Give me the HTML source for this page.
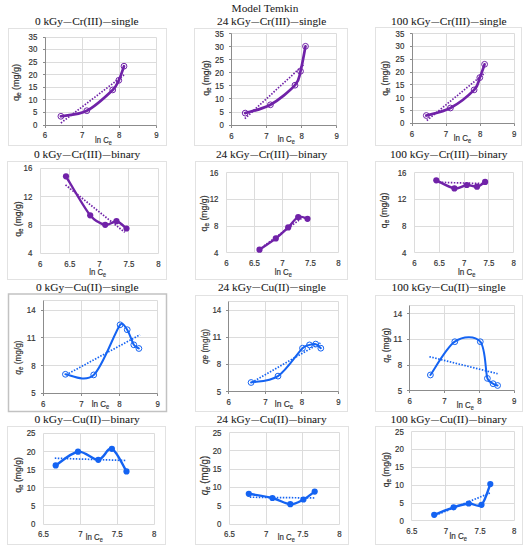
<!DOCTYPE html>
<html><head><meta charset="utf-8"><style>
html,body{margin:0;padding:0;background:#fff;width:531px;height:550px;overflow:hidden}
svg{display:block}
</style></head><body>
<svg width="531" height="550" viewBox="0 0 531 550">
<rect width="531" height="550" fill="#fff"/>
<text x="265" y="11.5" text-anchor="middle" font-family="'Liberation Serif', serif" font-size="11.4" fill="#1a1a1a" textLength="66.8" lengthAdjust="spacingAndGlyphs">Model Temkin</text>
<rect x="8.5" y="28.5" width="158.00" height="117.00" fill="#fff" stroke="#e2e2e2" stroke-width="1"/>
<text x="35" y="25.3" font-family="'Liberation Serif', serif" font-size="11.4" fill="#1a1a1a" stroke="#1a1a1a" stroke-width="0.08" textLength="103.6" lengthAdjust="spacingAndGlyphs">0 kGy<tspan font-size="8" dy="-1.3">&#8202;—&#8202;</tspan><tspan dy="1.3">Cr(III)</tspan><tspan font-size="8" dy="-1.3">&#8202;—&#8202;</tspan><tspan dy="1.3">single</tspan></text>
<line x1="45.5" y1="125.5" x2="156.5" y2="125.5" stroke="#dcdcdc" stroke-width="1"/>
<line x1="45.5" y1="112.5" x2="156.5" y2="112.5" stroke="#dcdcdc" stroke-width="1"/>
<line x1="45.5" y1="99.5" x2="156.5" y2="99.5" stroke="#dcdcdc" stroke-width="1"/>
<line x1="45.5" y1="87.5" x2="156.5" y2="87.5" stroke="#dcdcdc" stroke-width="1"/>
<line x1="45.5" y1="74.5" x2="156.5" y2="74.5" stroke="#dcdcdc" stroke-width="1"/>
<line x1="45.5" y1="62.5" x2="156.5" y2="62.5" stroke="#dcdcdc" stroke-width="1"/>
<line x1="45.5" y1="49.5" x2="156.5" y2="49.5" stroke="#dcdcdc" stroke-width="1"/>
<line x1="45.5" y1="37.5" x2="156.5" y2="37.5" stroke="#dcdcdc" stroke-width="1"/>
<line x1="45.5" y1="37.5" x2="45.5" y2="125.5" stroke="#dcdcdc" stroke-width="1"/>
<line x1="82.5" y1="37.5" x2="82.5" y2="125.5" stroke="#dcdcdc" stroke-width="1"/>
<line x1="119.5" y1="37.5" x2="119.5" y2="125.5" stroke="#dcdcdc" stroke-width="1"/>
<line x1="156.5" y1="37.5" x2="156.5" y2="125.5" stroke="#dcdcdc" stroke-width="1"/>
<line x1="45.5" y1="37.5" x2="45.5" y2="127.5" stroke="#8c8c8c" stroke-width="1"/>
<line x1="43.5" y1="125.5" x2="156.5" y2="125.5" stroke="#8c8c8c" stroke-width="1"/>
<line x1="43.0" y1="125.5" x2="45.5" y2="125.5" stroke="#8c8c8c" stroke-width="1"/>
<line x1="43.0" y1="112.5" x2="45.5" y2="112.5" stroke="#8c8c8c" stroke-width="1"/>
<line x1="43.0" y1="99.5" x2="45.5" y2="99.5" stroke="#8c8c8c" stroke-width="1"/>
<line x1="43.0" y1="87.5" x2="45.5" y2="87.5" stroke="#8c8c8c" stroke-width="1"/>
<line x1="43.0" y1="74.5" x2="45.5" y2="74.5" stroke="#8c8c8c" stroke-width="1"/>
<line x1="43.0" y1="62.5" x2="45.5" y2="62.5" stroke="#8c8c8c" stroke-width="1"/>
<line x1="43.0" y1="49.5" x2="45.5" y2="49.5" stroke="#8c8c8c" stroke-width="1"/>
<line x1="43.0" y1="37.5" x2="45.5" y2="37.5" stroke="#8c8c8c" stroke-width="1"/>
<line x1="45.5" y1="125.5" x2="45.5" y2="128.0" stroke="#8c8c8c" stroke-width="1"/>
<line x1="82.5" y1="125.5" x2="82.5" y2="128.0" stroke="#8c8c8c" stroke-width="1"/>
<line x1="119.5" y1="125.5" x2="119.5" y2="128.0" stroke="#8c8c8c" stroke-width="1"/>
<line x1="156.5" y1="125.5" x2="156.5" y2="128.0" stroke="#8c8c8c" stroke-width="1"/>
<text x="37.40" y="127.90" text-anchor="end" font-family="'Liberation Sans', sans-serif" font-size="8.8" font-weight="normal" fill="#333333" stroke="#333333" stroke-width="0.18" textLength="4.40" lengthAdjust="spacingAndGlyphs">0</text>
<text x="37.40" y="115.33" text-anchor="end" font-family="'Liberation Sans', sans-serif" font-size="8.8" font-weight="normal" fill="#333333" stroke="#333333" stroke-width="0.18" textLength="4.40" lengthAdjust="spacingAndGlyphs">5</text>
<text x="37.40" y="102.76" text-anchor="end" font-family="'Liberation Sans', sans-serif" font-size="8.8" font-weight="normal" fill="#333333" stroke="#333333" stroke-width="0.18" textLength="8.80" lengthAdjust="spacingAndGlyphs">10</text>
<text x="37.40" y="90.19" text-anchor="end" font-family="'Liberation Sans', sans-serif" font-size="8.8" font-weight="normal" fill="#333333" stroke="#333333" stroke-width="0.18" textLength="8.80" lengthAdjust="spacingAndGlyphs">15</text>
<text x="37.40" y="77.61" text-anchor="end" font-family="'Liberation Sans', sans-serif" font-size="8.8" font-weight="normal" fill="#333333" stroke="#333333" stroke-width="0.18" textLength="8.80" lengthAdjust="spacingAndGlyphs">20</text>
<text x="37.40" y="65.04" text-anchor="end" font-family="'Liberation Sans', sans-serif" font-size="8.8" font-weight="normal" fill="#333333" stroke="#333333" stroke-width="0.18" textLength="8.80" lengthAdjust="spacingAndGlyphs">25</text>
<text x="37.40" y="52.47" text-anchor="end" font-family="'Liberation Sans', sans-serif" font-size="8.8" font-weight="normal" fill="#333333" stroke="#333333" stroke-width="0.18" textLength="8.80" lengthAdjust="spacingAndGlyphs">30</text>
<text x="37.40" y="39.90" text-anchor="end" font-family="'Liberation Sans', sans-serif" font-size="8.8" font-weight="normal" fill="#333333" stroke="#333333" stroke-width="0.18" textLength="8.80" lengthAdjust="spacingAndGlyphs">35</text>
<text x="45.00" y="138.40" text-anchor="middle" font-family="'Liberation Sans', sans-serif" font-size="8.8" font-weight="normal" fill="#333333" stroke="#333333" stroke-width="0.18" textLength="4.40" lengthAdjust="spacingAndGlyphs">6</text>
<text x="82.13" y="138.40" text-anchor="middle" font-family="'Liberation Sans', sans-serif" font-size="8.8" font-weight="normal" fill="#333333" stroke="#333333" stroke-width="0.18" textLength="4.40" lengthAdjust="spacingAndGlyphs">7</text>
<text x="119.27" y="138.40" text-anchor="middle" font-family="'Liberation Sans', sans-serif" font-size="8.8" font-weight="normal" fill="#333333" stroke="#333333" stroke-width="0.18" textLength="4.40" lengthAdjust="spacingAndGlyphs">8</text>
<text x="156.40" y="138.40" text-anchor="middle" font-family="'Liberation Sans', sans-serif" font-size="8.8" font-weight="normal" fill="#333333" stroke="#333333" stroke-width="0.18" textLength="4.40" lengthAdjust="spacingAndGlyphs">9</text>
<text x="95.1" y="142.5" font-family="'Liberation Sans', sans-serif" font-size="9.2" font-weight="normal" fill="#333333" stroke="#333333" stroke-width="0.2" textLength="16.7" lengthAdjust="spacingAndGlyphs">ln C<tspan font-size="6.5" dy="2">e</tspan></text>
<text transform="translate(19.35,82.50) rotate(-90)" x="0" y="0" text-anchor="middle" font-family="'Liberation Sans', sans-serif" font-size="9" font-weight="normal" fill="#333333" stroke="#333333" stroke-width="0.2" textLength="37.2" lengthAdjust="spacingAndGlyphs">q<tspan font-size="6.5" dy="2">e</tspan><tspan dy="-2"> (mg/g)</tspan></text>
<line x1="60.9" y1="123" x2="124" y2="75" stroke="#7022a8" stroke-width="1.7" stroke-dasharray="1.5 1.5"/>
<path d="M60.90,116.30 C65.22,115.37 78.17,115.10 86.80,110.70 C95.43,106.30 107.37,94.97 112.70,89.90 C116.82,85.98 116.92,84.25 118.80,80.30 C120.68,76.35 123.13,68.55 124.00,66.20" fill="none" stroke="#7022a8" stroke-width="2.7" stroke-linejoin="round" stroke-linecap="round"/>
<circle cx="60.9" cy="116.3" r="2.9" fill="none" stroke="#7022a8" stroke-width="1"/>
<circle cx="86.8" cy="110.7" r="2.9" fill="none" stroke="#7022a8" stroke-width="1"/>
<circle cx="112.7" cy="89.9" r="2.9" fill="none" stroke="#7022a8" stroke-width="1"/>
<circle cx="118.8" cy="80.3" r="2.9" fill="none" stroke="#7022a8" stroke-width="1"/>
<circle cx="124" cy="66.2" r="2.9" fill="none" stroke="#7022a8" stroke-width="1"/>
<rect x="194.5" y="28.5" width="153.00" height="117.00" fill="#fff" stroke="#e2e2e2" stroke-width="1"/>
<text x="217" y="25.1" font-family="'Liberation Serif', serif" font-size="11.4" fill="#1a1a1a" stroke="#1a1a1a" stroke-width="0.08" textLength="109.2" lengthAdjust="spacingAndGlyphs">24 kGy<tspan font-size="8" dy="-1.3">&#8202;—&#8202;</tspan><tspan dy="1.3">Cr(III)</tspan><tspan font-size="8" dy="-1.3">&#8202;—&#8202;</tspan><tspan dy="1.3">single</tspan></text>
<line x1="231.5" y1="125.5" x2="336.5" y2="125.5" stroke="#dcdcdc" stroke-width="1"/>
<line x1="231.5" y1="112.5" x2="336.5" y2="112.5" stroke="#dcdcdc" stroke-width="1"/>
<line x1="231.5" y1="98.5" x2="336.5" y2="98.5" stroke="#dcdcdc" stroke-width="1"/>
<line x1="231.5" y1="85.5" x2="336.5" y2="85.5" stroke="#dcdcdc" stroke-width="1"/>
<line x1="231.5" y1="72.5" x2="336.5" y2="72.5" stroke="#dcdcdc" stroke-width="1"/>
<line x1="231.5" y1="59.5" x2="336.5" y2="59.5" stroke="#dcdcdc" stroke-width="1"/>
<line x1="231.5" y1="46.5" x2="336.5" y2="46.5" stroke="#dcdcdc" stroke-width="1"/>
<line x1="231.5" y1="33.5" x2="336.5" y2="33.5" stroke="#dcdcdc" stroke-width="1"/>
<line x1="231.5" y1="33.5" x2="231.5" y2="125.5" stroke="#dcdcdc" stroke-width="1"/>
<line x1="266.5" y1="33.5" x2="266.5" y2="125.5" stroke="#dcdcdc" stroke-width="1"/>
<line x1="301.5" y1="33.5" x2="301.5" y2="125.5" stroke="#dcdcdc" stroke-width="1"/>
<line x1="336.5" y1="33.5" x2="336.5" y2="125.5" stroke="#dcdcdc" stroke-width="1"/>
<line x1="231.5" y1="33.5" x2="231.5" y2="127.5" stroke="#8c8c8c" stroke-width="1"/>
<line x1="229.5" y1="125.5" x2="336.5" y2="125.5" stroke="#8c8c8c" stroke-width="1"/>
<line x1="229.0" y1="125.5" x2="231.5" y2="125.5" stroke="#8c8c8c" stroke-width="1"/>
<line x1="229.0" y1="112.5" x2="231.5" y2="112.5" stroke="#8c8c8c" stroke-width="1"/>
<line x1="229.0" y1="98.5" x2="231.5" y2="98.5" stroke="#8c8c8c" stroke-width="1"/>
<line x1="229.0" y1="85.5" x2="231.5" y2="85.5" stroke="#8c8c8c" stroke-width="1"/>
<line x1="229.0" y1="72.5" x2="231.5" y2="72.5" stroke="#8c8c8c" stroke-width="1"/>
<line x1="229.0" y1="59.5" x2="231.5" y2="59.5" stroke="#8c8c8c" stroke-width="1"/>
<line x1="229.0" y1="46.5" x2="231.5" y2="46.5" stroke="#8c8c8c" stroke-width="1"/>
<line x1="229.0" y1="33.5" x2="231.5" y2="33.5" stroke="#8c8c8c" stroke-width="1"/>
<line x1="231.5" y1="125.5" x2="231.5" y2="128.0" stroke="#8c8c8c" stroke-width="1"/>
<line x1="266.5" y1="125.5" x2="266.5" y2="128.0" stroke="#8c8c8c" stroke-width="1"/>
<line x1="301.5" y1="125.5" x2="301.5" y2="128.0" stroke="#8c8c8c" stroke-width="1"/>
<line x1="336.5" y1="125.5" x2="336.5" y2="128.0" stroke="#8c8c8c" stroke-width="1"/>
<text x="223.80" y="128.00" text-anchor="end" font-family="'Liberation Sans', sans-serif" font-size="8.8" font-weight="normal" fill="#333333" stroke="#333333" stroke-width="0.18" textLength="4.40" lengthAdjust="spacingAndGlyphs">0</text>
<text x="223.80" y="114.93" text-anchor="end" font-family="'Liberation Sans', sans-serif" font-size="8.8" font-weight="normal" fill="#333333" stroke="#333333" stroke-width="0.18" textLength="4.40" lengthAdjust="spacingAndGlyphs">5</text>
<text x="223.80" y="101.86" text-anchor="end" font-family="'Liberation Sans', sans-serif" font-size="8.8" font-weight="normal" fill="#333333" stroke="#333333" stroke-width="0.18" textLength="8.80" lengthAdjust="spacingAndGlyphs">10</text>
<text x="223.80" y="88.79" text-anchor="end" font-family="'Liberation Sans', sans-serif" font-size="8.8" font-weight="normal" fill="#333333" stroke="#333333" stroke-width="0.18" textLength="8.80" lengthAdjust="spacingAndGlyphs">15</text>
<text x="223.80" y="75.71" text-anchor="end" font-family="'Liberation Sans', sans-serif" font-size="8.8" font-weight="normal" fill="#333333" stroke="#333333" stroke-width="0.18" textLength="8.80" lengthAdjust="spacingAndGlyphs">20</text>
<text x="223.80" y="62.64" text-anchor="end" font-family="'Liberation Sans', sans-serif" font-size="8.8" font-weight="normal" fill="#333333" stroke="#333333" stroke-width="0.18" textLength="8.80" lengthAdjust="spacingAndGlyphs">25</text>
<text x="223.80" y="49.57" text-anchor="end" font-family="'Liberation Sans', sans-serif" font-size="8.8" font-weight="normal" fill="#333333" stroke="#333333" stroke-width="0.18" textLength="8.80" lengthAdjust="spacingAndGlyphs">30</text>
<text x="223.80" y="36.50" text-anchor="end" font-family="'Liberation Sans', sans-serif" font-size="8.8" font-weight="normal" fill="#333333" stroke="#333333" stroke-width="0.18" textLength="8.80" lengthAdjust="spacingAndGlyphs">35</text>
<text x="231.40" y="138.50" text-anchor="middle" font-family="'Liberation Sans', sans-serif" font-size="8.8" font-weight="normal" fill="#333333" stroke="#333333" stroke-width="0.18" textLength="4.40" lengthAdjust="spacingAndGlyphs">6</text>
<text x="266.50" y="138.50" text-anchor="middle" font-family="'Liberation Sans', sans-serif" font-size="8.8" font-weight="normal" fill="#333333" stroke="#333333" stroke-width="0.18" textLength="4.40" lengthAdjust="spacingAndGlyphs">7</text>
<text x="301.60" y="138.50" text-anchor="middle" font-family="'Liberation Sans', sans-serif" font-size="8.8" font-weight="normal" fill="#333333" stroke="#333333" stroke-width="0.18" textLength="4.40" lengthAdjust="spacingAndGlyphs">8</text>
<text x="336.70" y="138.50" text-anchor="middle" font-family="'Liberation Sans', sans-serif" font-size="8.8" font-weight="normal" fill="#333333" stroke="#333333" stroke-width="0.18" textLength="4.40" lengthAdjust="spacingAndGlyphs">9</text>
<text x="277.7" y="142.2" font-family="'Liberation Sans', sans-serif" font-size="9.2" font-weight="normal" fill="#333333" stroke="#333333" stroke-width="0.2" textLength="17.1" lengthAdjust="spacingAndGlyphs">ln C<tspan font-size="6.5" dy="2">e</tspan></text>
<text transform="translate(208.80,78.10) rotate(-90)" x="0" y="0" text-anchor="middle" font-family="'Liberation Sans', sans-serif" font-size="9" font-weight="normal" fill="#333333" stroke="#333333" stroke-width="0.2" textLength="35.4" lengthAdjust="spacingAndGlyphs">q<tspan font-size="6.5" dy="2">e</tspan><tspan dy="-2"> (mg/g)</tspan></text>
<line x1="244.8" y1="118.6" x2="304.6" y2="63.8" stroke="#7022a8" stroke-width="1.7" stroke-dasharray="1.5 1.5"/>
<path d="M245.20,113.10 C249.40,111.72 262.10,109.45 270.40,104.80 C278.70,100.15 289.98,90.78 295.00,85.20 C300.00,79.64 298.75,77.78 300.50,71.30 C302.25,64.82 304.67,50.47 305.50,46.30" fill="none" stroke="#7022a8" stroke-width="2.7" stroke-linejoin="round" stroke-linecap="round"/>
<circle cx="245.2" cy="113.1" r="2.9" fill="none" stroke="#7022a8" stroke-width="1"/>
<circle cx="270.4" cy="104.8" r="2.9" fill="none" stroke="#7022a8" stroke-width="1"/>
<circle cx="295" cy="85.2" r="2.9" fill="none" stroke="#7022a8" stroke-width="1"/>
<circle cx="300.5" cy="71.3" r="2.9" fill="none" stroke="#7022a8" stroke-width="1"/>
<circle cx="305.5" cy="46.3" r="2.9" fill="none" stroke="#7022a8" stroke-width="1"/>
<rect x="375.5" y="27.5" width="146.00" height="118.00" fill="#fff" stroke="#e2e2e2" stroke-width="1"/>
<text x="391.1" y="25.3" font-family="'Liberation Serif', serif" font-size="11.4" fill="#1a1a1a" stroke="#1a1a1a" stroke-width="0.08" textLength="115.5" lengthAdjust="spacingAndGlyphs">100 kGy<tspan font-size="8" dy="-1.3">&#8202;—&#8202;</tspan><tspan dy="1.3">Cr(III)</tspan><tspan font-size="8" dy="-1.3">&#8202;—&#8202;</tspan><tspan dy="1.3">single</tspan></text>
<line x1="412.5" y1="123.5" x2="514.5" y2="123.5" stroke="#dcdcdc" stroke-width="1"/>
<line x1="412.5" y1="110.5" x2="514.5" y2="110.5" stroke="#dcdcdc" stroke-width="1"/>
<line x1="412.5" y1="97.5" x2="514.5" y2="97.5" stroke="#dcdcdc" stroke-width="1"/>
<line x1="412.5" y1="84.5" x2="514.5" y2="84.5" stroke="#dcdcdc" stroke-width="1"/>
<line x1="412.5" y1="72.5" x2="514.5" y2="72.5" stroke="#dcdcdc" stroke-width="1"/>
<line x1="412.5" y1="59.5" x2="514.5" y2="59.5" stroke="#dcdcdc" stroke-width="1"/>
<line x1="412.5" y1="46.5" x2="514.5" y2="46.5" stroke="#dcdcdc" stroke-width="1"/>
<line x1="412.5" y1="33.5" x2="514.5" y2="33.5" stroke="#dcdcdc" stroke-width="1"/>
<line x1="412.5" y1="33.5" x2="412.5" y2="123.5" stroke="#dcdcdc" stroke-width="1"/>
<line x1="446.5" y1="33.5" x2="446.5" y2="123.5" stroke="#dcdcdc" stroke-width="1"/>
<line x1="480.5" y1="33.5" x2="480.5" y2="123.5" stroke="#dcdcdc" stroke-width="1"/>
<line x1="514.5" y1="33.5" x2="514.5" y2="123.5" stroke="#dcdcdc" stroke-width="1"/>
<line x1="412.5" y1="33.5" x2="412.5" y2="125.5" stroke="#8c8c8c" stroke-width="1"/>
<line x1="410.5" y1="123.5" x2="514.5" y2="123.5" stroke="#8c8c8c" stroke-width="1"/>
<line x1="410.0" y1="123.5" x2="412.5" y2="123.5" stroke="#8c8c8c" stroke-width="1"/>
<line x1="410.0" y1="110.5" x2="412.5" y2="110.5" stroke="#8c8c8c" stroke-width="1"/>
<line x1="410.0" y1="97.5" x2="412.5" y2="97.5" stroke="#8c8c8c" stroke-width="1"/>
<line x1="410.0" y1="84.5" x2="412.5" y2="84.5" stroke="#8c8c8c" stroke-width="1"/>
<line x1="410.0" y1="72.5" x2="412.5" y2="72.5" stroke="#8c8c8c" stroke-width="1"/>
<line x1="410.0" y1="59.5" x2="412.5" y2="59.5" stroke="#8c8c8c" stroke-width="1"/>
<line x1="410.0" y1="46.5" x2="412.5" y2="46.5" stroke="#8c8c8c" stroke-width="1"/>
<line x1="410.0" y1="33.5" x2="412.5" y2="33.5" stroke="#8c8c8c" stroke-width="1"/>
<line x1="412.5" y1="123.5" x2="412.5" y2="126.0" stroke="#8c8c8c" stroke-width="1"/>
<line x1="446.5" y1="123.5" x2="446.5" y2="126.0" stroke="#8c8c8c" stroke-width="1"/>
<line x1="480.5" y1="123.5" x2="480.5" y2="126.0" stroke="#8c8c8c" stroke-width="1"/>
<line x1="514.5" y1="123.5" x2="514.5" y2="126.0" stroke="#8c8c8c" stroke-width="1"/>
<text x="404.40" y="126.30" text-anchor="end" font-family="'Liberation Sans', sans-serif" font-size="8.8" font-weight="normal" fill="#333333" stroke="#333333" stroke-width="0.18" textLength="4.40" lengthAdjust="spacingAndGlyphs">0</text>
<text x="404.40" y="113.47" text-anchor="end" font-family="'Liberation Sans', sans-serif" font-size="8.8" font-weight="normal" fill="#333333" stroke="#333333" stroke-width="0.18" textLength="4.40" lengthAdjust="spacingAndGlyphs">5</text>
<text x="404.40" y="100.64" text-anchor="end" font-family="'Liberation Sans', sans-serif" font-size="8.8" font-weight="normal" fill="#333333" stroke="#333333" stroke-width="0.18" textLength="8.80" lengthAdjust="spacingAndGlyphs">10</text>
<text x="404.40" y="87.81" text-anchor="end" font-family="'Liberation Sans', sans-serif" font-size="8.8" font-weight="normal" fill="#333333" stroke="#333333" stroke-width="0.18" textLength="8.80" lengthAdjust="spacingAndGlyphs">15</text>
<text x="404.40" y="74.99" text-anchor="end" font-family="'Liberation Sans', sans-serif" font-size="8.8" font-weight="normal" fill="#333333" stroke="#333333" stroke-width="0.18" textLength="8.80" lengthAdjust="spacingAndGlyphs">20</text>
<text x="404.40" y="62.16" text-anchor="end" font-family="'Liberation Sans', sans-serif" font-size="8.8" font-weight="normal" fill="#333333" stroke="#333333" stroke-width="0.18" textLength="8.80" lengthAdjust="spacingAndGlyphs">25</text>
<text x="404.40" y="49.33" text-anchor="end" font-family="'Liberation Sans', sans-serif" font-size="8.8" font-weight="normal" fill="#333333" stroke="#333333" stroke-width="0.18" textLength="8.80" lengthAdjust="spacingAndGlyphs">30</text>
<text x="404.40" y="36.50" text-anchor="end" font-family="'Liberation Sans', sans-serif" font-size="8.8" font-weight="normal" fill="#333333" stroke="#333333" stroke-width="0.18" textLength="8.80" lengthAdjust="spacingAndGlyphs">35</text>
<text x="412.00" y="136.80" text-anchor="middle" font-family="'Liberation Sans', sans-serif" font-size="8.8" font-weight="normal" fill="#333333" stroke="#333333" stroke-width="0.18" textLength="4.40" lengthAdjust="spacingAndGlyphs">6</text>
<text x="446.07" y="136.80" text-anchor="middle" font-family="'Liberation Sans', sans-serif" font-size="8.8" font-weight="normal" fill="#333333" stroke="#333333" stroke-width="0.18" textLength="4.40" lengthAdjust="spacingAndGlyphs">7</text>
<text x="480.13" y="136.80" text-anchor="middle" font-family="'Liberation Sans', sans-serif" font-size="8.8" font-weight="normal" fill="#333333" stroke="#333333" stroke-width="0.18" textLength="4.40" lengthAdjust="spacingAndGlyphs">8</text>
<text x="514.20" y="136.80" text-anchor="middle" font-family="'Liberation Sans', sans-serif" font-size="8.8" font-weight="normal" fill="#333333" stroke="#333333" stroke-width="0.18" textLength="4.40" lengthAdjust="spacingAndGlyphs">9</text>
<text x="453.7" y="140.5" font-family="'Liberation Sans', sans-serif" font-size="9.2" font-weight="normal" fill="#333333" stroke="#333333" stroke-width="0.2" textLength="17.4" lengthAdjust="spacingAndGlyphs">ln C<tspan font-size="6.5" dy="2">e</tspan></text>
<text transform="translate(388.20,78.40) rotate(-90)" x="0" y="0" text-anchor="middle" font-family="'Liberation Sans', sans-serif" font-size="9" font-weight="normal" fill="#333333" stroke="#333333" stroke-width="0.2" textLength="34.9" lengthAdjust="spacingAndGlyphs">q<tspan font-size="6.5" dy="2">e</tspan><tspan dy="-2"> (mg/g)</tspan></text>
<line x1="426.8" y1="120.5" x2="485" y2="72.9" stroke="#7022a8" stroke-width="1.7" stroke-dasharray="1.5 1.5"/>
<path d="M426.30,115.50 C430.32,114.25 442.43,112.27 450.40,108.00 C458.37,103.73 469.20,94.97 474.10,89.90 C478.81,85.03 478.05,81.87 479.80,77.60 C481.55,73.33 483.80,66.52 484.60,64.30" fill="none" stroke="#7022a8" stroke-width="2.7" stroke-linejoin="round" stroke-linecap="round"/>
<circle cx="426.3" cy="115.5" r="2.9" fill="none" stroke="#7022a8" stroke-width="1"/>
<circle cx="450.4" cy="108" r="2.9" fill="none" stroke="#7022a8" stroke-width="1"/>
<circle cx="474.1" cy="89.9" r="2.9" fill="none" stroke="#7022a8" stroke-width="1"/>
<circle cx="479.8" cy="77.6" r="2.9" fill="none" stroke="#7022a8" stroke-width="1"/>
<circle cx="484.6" cy="64.3" r="2.9" fill="none" stroke="#7022a8" stroke-width="1"/>
<rect x="7.5" y="161.5" width="159.00" height="118.00" fill="#fff" stroke="#e2e2e2" stroke-width="1"/>
<text x="33.9" y="157.9" font-family="'Liberation Serif', serif" font-size="11.4" fill="#1a1a1a" stroke="#1a1a1a" stroke-width="0.08" textLength="106.4" lengthAdjust="spacingAndGlyphs">0 kGy<tspan font-size="8" dy="-1.3">&#8202;—&#8202;</tspan><tspan dy="1.3">Cr(III)</tspan><tspan font-size="8" dy="-1.3">&#8202;—&#8202;</tspan><tspan dy="1.3">binary</tspan></text>
<line x1="40.5" y1="253.5" x2="158.5" y2="253.5" stroke="#dcdcdc" stroke-width="1"/>
<line x1="40.5" y1="225.5" x2="158.5" y2="225.5" stroke="#dcdcdc" stroke-width="1"/>
<line x1="40.5" y1="196.5" x2="158.5" y2="196.5" stroke="#dcdcdc" stroke-width="1"/>
<line x1="40.5" y1="168.5" x2="158.5" y2="168.5" stroke="#dcdcdc" stroke-width="1"/>
<line x1="40.5" y1="168.5" x2="40.5" y2="253.5" stroke="#dcdcdc" stroke-width="1"/>
<line x1="69.5" y1="168.5" x2="69.5" y2="253.5" stroke="#dcdcdc" stroke-width="1"/>
<line x1="99.5" y1="168.5" x2="99.5" y2="253.5" stroke="#dcdcdc" stroke-width="1"/>
<line x1="128.5" y1="168.5" x2="128.5" y2="253.5" stroke="#dcdcdc" stroke-width="1"/>
<line x1="158.5" y1="168.5" x2="158.5" y2="253.5" stroke="#dcdcdc" stroke-width="1"/>
<text x="32.30" y="256.40" text-anchor="end" font-family="'Liberation Sans', sans-serif" font-size="8.8" font-weight="normal" fill="#333333" stroke="#333333" stroke-width="0.18" textLength="4.40" lengthAdjust="spacingAndGlyphs">4</text>
<text x="32.30" y="228.07" text-anchor="end" font-family="'Liberation Sans', sans-serif" font-size="8.8" font-weight="normal" fill="#333333" stroke="#333333" stroke-width="0.18" textLength="4.40" lengthAdjust="spacingAndGlyphs">8</text>
<text x="32.30" y="199.73" text-anchor="end" font-family="'Liberation Sans', sans-serif" font-size="8.8" font-weight="normal" fill="#333333" stroke="#333333" stroke-width="0.18" textLength="8.80" lengthAdjust="spacingAndGlyphs">12</text>
<text x="32.30" y="171.40" text-anchor="end" font-family="'Liberation Sans', sans-serif" font-size="8.8" font-weight="normal" fill="#333333" stroke="#333333" stroke-width="0.18" textLength="8.80" lengthAdjust="spacingAndGlyphs">16</text>
<text x="40.30" y="266.90" text-anchor="middle" font-family="'Liberation Sans', sans-serif" font-size="8.8" font-weight="normal" fill="#333333" stroke="#333333" stroke-width="0.18" textLength="4.40" lengthAdjust="spacingAndGlyphs">6</text>
<text x="69.83" y="266.90" text-anchor="middle" font-family="'Liberation Sans', sans-serif" font-size="8.8" font-weight="normal" fill="#333333" stroke="#333333" stroke-width="0.18" textLength="11.00" lengthAdjust="spacingAndGlyphs">6.5</text>
<text x="99.35" y="266.90" text-anchor="middle" font-family="'Liberation Sans', sans-serif" font-size="8.8" font-weight="normal" fill="#333333" stroke="#333333" stroke-width="0.18" textLength="4.40" lengthAdjust="spacingAndGlyphs">7</text>
<text x="128.88" y="266.90" text-anchor="middle" font-family="'Liberation Sans', sans-serif" font-size="8.8" font-weight="normal" fill="#333333" stroke="#333333" stroke-width="0.18" textLength="11.00" lengthAdjust="spacingAndGlyphs">7.5</text>
<text x="158.40" y="266.90" text-anchor="middle" font-family="'Liberation Sans', sans-serif" font-size="8.8" font-weight="normal" fill="#333333" stroke="#333333" stroke-width="0.18" textLength="4.40" lengthAdjust="spacingAndGlyphs">8</text>
<text x="89.3" y="275.3" font-family="'Liberation Sans', sans-serif" font-size="9.2" font-weight="normal" fill="#333333" stroke="#333333" stroke-width="0.2" textLength="16.8" lengthAdjust="spacingAndGlyphs">ln C<tspan font-size="6.5" dy="2">e</tspan></text>
<text transform="translate(21.30,219.10) rotate(-90)" x="0" y="0" text-anchor="middle" font-family="'Liberation Sans', sans-serif" font-size="9" font-weight="normal" fill="#333333" stroke="#333333" stroke-width="0.2" textLength="35.4" lengthAdjust="spacingAndGlyphs">q<tspan font-size="6.5" dy="2">e</tspan><tspan dy="-2"> (mg/g)</tspan></text>
<line x1="65.5" y1="184.9" x2="124.7" y2="232.3" stroke="#7022a8" stroke-width="1.7" stroke-dasharray="1.5 1.5"/>
<path d="M66.00,176.30 C70.03,182.80 83.67,207.22 90.20,215.30 C95.78,222.20 100.82,223.82 105.20,224.80 C109.58,225.78 112.95,220.58 116.50,221.20 C120.05,221.82 124.83,227.28 126.50,228.50" fill="none" stroke="#7022a8" stroke-width="2.4" stroke-linejoin="round" stroke-linecap="round"/>
<circle cx="66.0" cy="176.3" r="3.1" fill="#7022a8"/>
<circle cx="90.2" cy="215.3" r="3.1" fill="#7022a8"/>
<circle cx="105.2" cy="224.8" r="3.1" fill="#7022a8"/>
<circle cx="116.5" cy="221.2" r="3.1" fill="#7022a8"/>
<circle cx="126.5" cy="228.5" r="3.1" fill="#7022a8"/>
<rect x="195.5" y="161.5" width="152.00" height="118.00" fill="#fff" stroke="#e2e2e2" stroke-width="1"/>
<text x="215.9" y="157.9" font-family="'Liberation Serif', serif" font-size="11.4" fill="#1a1a1a" stroke="#1a1a1a" stroke-width="0.08" textLength="111.2" lengthAdjust="spacingAndGlyphs">24 kGy<tspan font-size="8" dy="-1.3">&#8202;—&#8202;</tspan><tspan dy="1.3">Cr(III)</tspan><tspan font-size="8" dy="-1.3">&#8202;—&#8202;</tspan><tspan dy="1.3">binary</tspan></text>
<line x1="226.5" y1="252.5" x2="338.5" y2="252.5" stroke="#dcdcdc" stroke-width="1"/>
<line x1="226.5" y1="226.5" x2="338.5" y2="226.5" stroke="#dcdcdc" stroke-width="1"/>
<line x1="226.5" y1="199.5" x2="338.5" y2="199.5" stroke="#dcdcdc" stroke-width="1"/>
<line x1="226.5" y1="172.5" x2="338.5" y2="172.5" stroke="#dcdcdc" stroke-width="1"/>
<line x1="226.5" y1="172.5" x2="226.5" y2="252.5" stroke="#dcdcdc" stroke-width="1"/>
<line x1="254.5" y1="172.5" x2="254.5" y2="252.5" stroke="#dcdcdc" stroke-width="1"/>
<line x1="282.5" y1="172.5" x2="282.5" y2="252.5" stroke="#dcdcdc" stroke-width="1"/>
<line x1="310.5" y1="172.5" x2="310.5" y2="252.5" stroke="#dcdcdc" stroke-width="1"/>
<line x1="338.5" y1="172.5" x2="338.5" y2="252.5" stroke="#dcdcdc" stroke-width="1"/>
<text x="218.50" y="255.80" text-anchor="end" font-family="'Liberation Sans', sans-serif" font-size="8.8" font-weight="normal" fill="#333333" stroke="#333333" stroke-width="0.18" textLength="4.40" lengthAdjust="spacingAndGlyphs">4</text>
<text x="218.50" y="229.10" text-anchor="end" font-family="'Liberation Sans', sans-serif" font-size="8.8" font-weight="normal" fill="#333333" stroke="#333333" stroke-width="0.18" textLength="4.40" lengthAdjust="spacingAndGlyphs">8</text>
<text x="218.50" y="202.40" text-anchor="end" font-family="'Liberation Sans', sans-serif" font-size="8.8" font-weight="normal" fill="#333333" stroke="#333333" stroke-width="0.18" textLength="8.80" lengthAdjust="spacingAndGlyphs">12</text>
<text x="218.50" y="175.70" text-anchor="end" font-family="'Liberation Sans', sans-serif" font-size="8.8" font-weight="normal" fill="#333333" stroke="#333333" stroke-width="0.18" textLength="8.80" lengthAdjust="spacingAndGlyphs">16</text>
<text x="226.50" y="266.30" text-anchor="middle" font-family="'Liberation Sans', sans-serif" font-size="8.8" font-weight="normal" fill="#333333" stroke="#333333" stroke-width="0.18" textLength="4.40" lengthAdjust="spacingAndGlyphs">6</text>
<text x="254.47" y="266.30" text-anchor="middle" font-family="'Liberation Sans', sans-serif" font-size="8.8" font-weight="normal" fill="#333333" stroke="#333333" stroke-width="0.18" textLength="11.00" lengthAdjust="spacingAndGlyphs">6.5</text>
<text x="282.45" y="266.30" text-anchor="middle" font-family="'Liberation Sans', sans-serif" font-size="8.8" font-weight="normal" fill="#333333" stroke="#333333" stroke-width="0.18" textLength="4.40" lengthAdjust="spacingAndGlyphs">7</text>
<text x="310.42" y="266.30" text-anchor="middle" font-family="'Liberation Sans', sans-serif" font-size="8.8" font-weight="normal" fill="#333333" stroke="#333333" stroke-width="0.18" textLength="11.00" lengthAdjust="spacingAndGlyphs">7.5</text>
<text x="338.40" y="266.30" text-anchor="middle" font-family="'Liberation Sans', sans-serif" font-size="8.8" font-weight="normal" fill="#333333" stroke="#333333" stroke-width="0.18" textLength="4.40" lengthAdjust="spacingAndGlyphs">8</text>
<text x="274.8" y="275.1" font-family="'Liberation Sans', sans-serif" font-size="9.2" font-weight="normal" fill="#333333" stroke="#333333" stroke-width="0.2" textLength="17.1" lengthAdjust="spacingAndGlyphs">ln C<tspan font-size="6.5" dy="2">e</tspan></text>
<text transform="translate(206.80,213.40) rotate(-90)" x="0" y="0" text-anchor="middle" font-family="'Liberation Sans', sans-serif" font-size="9" font-weight="normal" fill="#333333" stroke="#333333" stroke-width="0.2" textLength="36" lengthAdjust="spacingAndGlyphs">q<tspan font-size="6.5" dy="2">e</tspan><tspan dy="-2"> (mg/g)</tspan></text>
<line x1="264" y1="245.9" x2="301.8" y2="218.1" stroke="#7022a8" stroke-width="1.7" stroke-dasharray="1.5 1.5"/>
<path d="M259.50,249.70 C262.22,247.82 271.02,242.12 275.80,238.40 C280.58,234.68 284.47,230.97 288.20,227.40 C291.93,223.83 294.98,218.43 298.20,217.00 C301.42,215.57 305.95,218.50 307.50,218.80" fill="none" stroke="#7022a8" stroke-width="2.4" stroke-linejoin="round" stroke-linecap="round"/>
<circle cx="259.5" cy="249.7" r="3.1" fill="#7022a8"/>
<circle cx="275.8" cy="238.4" r="3.1" fill="#7022a8"/>
<circle cx="288.2" cy="227.4" r="3.1" fill="#7022a8"/>
<circle cx="298.2" cy="217" r="3.1" fill="#7022a8"/>
<circle cx="307.5" cy="218.8" r="3.1" fill="#7022a8"/>
<rect x="375.5" y="161.5" width="147.00" height="118.00" fill="#fff" stroke="#e2e2e2" stroke-width="1"/>
<text x="389.9" y="157.9" font-family="'Liberation Serif', serif" font-size="11.4" fill="#1a1a1a" stroke="#1a1a1a" stroke-width="0.08" textLength="117.5" lengthAdjust="spacingAndGlyphs">100 kGy<tspan font-size="8" dy="-1.3">&#8202;—&#8202;</tspan><tspan dy="1.3">Cr(III)</tspan><tspan font-size="8" dy="-1.3">&#8202;—&#8202;</tspan><tspan dy="1.3">binary</tspan></text>
<line x1="414.5" y1="252.5" x2="513.5" y2="252.5" stroke="#dcdcdc" stroke-width="1"/>
<line x1="414.5" y1="226.5" x2="513.5" y2="226.5" stroke="#dcdcdc" stroke-width="1"/>
<line x1="414.5" y1="199.5" x2="513.5" y2="199.5" stroke="#dcdcdc" stroke-width="1"/>
<line x1="414.5" y1="172.5" x2="513.5" y2="172.5" stroke="#dcdcdc" stroke-width="1"/>
<line x1="414.5" y1="172.5" x2="414.5" y2="252.5" stroke="#dcdcdc" stroke-width="1"/>
<line x1="439.5" y1="172.5" x2="439.5" y2="252.5" stroke="#dcdcdc" stroke-width="1"/>
<line x1="464.5" y1="172.5" x2="464.5" y2="252.5" stroke="#dcdcdc" stroke-width="1"/>
<line x1="488.5" y1="172.5" x2="488.5" y2="252.5" stroke="#dcdcdc" stroke-width="1"/>
<line x1="513.5" y1="172.5" x2="513.5" y2="252.5" stroke="#dcdcdc" stroke-width="1"/>
<text x="406.50" y="255.80" text-anchor="end" font-family="'Liberation Sans', sans-serif" font-size="8.8" font-weight="normal" fill="#333333" stroke="#333333" stroke-width="0.18" textLength="4.40" lengthAdjust="spacingAndGlyphs">4</text>
<text x="406.50" y="229.03" text-anchor="end" font-family="'Liberation Sans', sans-serif" font-size="8.8" font-weight="normal" fill="#333333" stroke="#333333" stroke-width="0.18" textLength="4.40" lengthAdjust="spacingAndGlyphs">8</text>
<text x="406.50" y="202.27" text-anchor="end" font-family="'Liberation Sans', sans-serif" font-size="8.8" font-weight="normal" fill="#333333" stroke="#333333" stroke-width="0.18" textLength="8.80" lengthAdjust="spacingAndGlyphs">12</text>
<text x="406.50" y="175.50" text-anchor="end" font-family="'Liberation Sans', sans-serif" font-size="8.8" font-weight="normal" fill="#333333" stroke="#333333" stroke-width="0.18" textLength="8.80" lengthAdjust="spacingAndGlyphs">16</text>
<text x="414.50" y="266.30" text-anchor="middle" font-family="'Liberation Sans', sans-serif" font-size="8.8" font-weight="normal" fill="#333333" stroke="#333333" stroke-width="0.18" textLength="4.40" lengthAdjust="spacingAndGlyphs">6</text>
<text x="439.30" y="266.30" text-anchor="middle" font-family="'Liberation Sans', sans-serif" font-size="8.8" font-weight="normal" fill="#333333" stroke="#333333" stroke-width="0.18" textLength="11.00" lengthAdjust="spacingAndGlyphs">6.5</text>
<text x="464.10" y="266.30" text-anchor="middle" font-family="'Liberation Sans', sans-serif" font-size="8.8" font-weight="normal" fill="#333333" stroke="#333333" stroke-width="0.18" textLength="4.40" lengthAdjust="spacingAndGlyphs">7</text>
<text x="488.90" y="266.30" text-anchor="middle" font-family="'Liberation Sans', sans-serif" font-size="8.8" font-weight="normal" fill="#333333" stroke="#333333" stroke-width="0.18" textLength="11.00" lengthAdjust="spacingAndGlyphs">7.5</text>
<text x="513.70" y="266.30" text-anchor="middle" font-family="'Liberation Sans', sans-serif" font-size="8.8" font-weight="normal" fill="#333333" stroke="#333333" stroke-width="0.18" textLength="4.40" lengthAdjust="spacingAndGlyphs">8</text>
<text x="458" y="275.1" font-family="'Liberation Sans', sans-serif" font-size="9.2" font-weight="normal" fill="#333333" stroke="#333333" stroke-width="0.2" textLength="17.5" lengthAdjust="spacingAndGlyphs">ln C<tspan font-size="6.5" dy="2">e</tspan></text>
<text transform="translate(387.40,210.40) rotate(-90)" x="0" y="0" text-anchor="middle" font-family="'Liberation Sans', sans-serif" font-size="9" font-weight="normal" fill="#333333" stroke="#333333" stroke-width="0.2" textLength="35.5" lengthAdjust="spacingAndGlyphs">q<tspan font-size="6.5" dy="2">e</tspan><tspan dy="-2"> (mg/g)</tspan></text>
<line x1="438.8" y1="182.3" x2="484.6" y2="183.6" stroke="#7022a8" stroke-width="1.7" stroke-dasharray="1.5 1.5"/>
<path d="M436.30,180.30 C439.32,181.65 449.32,187.62 454.40,188.40 C459.48,189.18 463.03,185.28 466.80,185.00 C470.57,184.72 473.95,187.22 477.00,186.70 C480.05,186.18 483.75,182.70 485.10,181.90" fill="none" stroke="#7022a8" stroke-width="2.4" stroke-linejoin="round" stroke-linecap="round"/>
<circle cx="436.3" cy="180.3" r="3.1" fill="#7022a8"/>
<circle cx="454.4" cy="188.4" r="3.1" fill="#7022a8"/>
<circle cx="466.8" cy="185" r="3.1" fill="#7022a8"/>
<circle cx="477" cy="186.7" r="3.1" fill="#7022a8"/>
<circle cx="485.1" cy="181.9" r="3.1" fill="#7022a8"/>
<rect x="8.5" y="294.0" width="158.00" height="117.50" fill="#fff" stroke="#c2c2c2" stroke-width="1.5"/>
<text x="35.9" y="290.7" font-family="'Liberation Serif', serif" font-size="11.4" fill="#1a1a1a" stroke="#1a1a1a" stroke-width="0.08" textLength="102.7" lengthAdjust="spacingAndGlyphs">0 kGy<tspan font-size="8" dy="-1.3">&#8202;—&#8202;</tspan><tspan dy="1.3">Cu(II)</tspan><tspan font-size="8" dy="-1.3">&#8202;—&#8202;</tspan><tspan dy="1.3">single</tspan></text>
<line x1="43.5" y1="393.5" x2="157.5" y2="393.5" stroke="#dcdcdc" stroke-width="1"/>
<line x1="43.5" y1="365.5" x2="157.5" y2="365.5" stroke="#dcdcdc" stroke-width="1"/>
<line x1="43.5" y1="337.5" x2="157.5" y2="337.5" stroke="#dcdcdc" stroke-width="1"/>
<line x1="43.5" y1="310.5" x2="157.5" y2="310.5" stroke="#dcdcdc" stroke-width="1"/>
<line x1="43.5" y1="300.5" x2="157.5" y2="300.5" stroke="#dcdcdc" stroke-width="1"/>
<line x1="43.5" y1="300.5" x2="43.5" y2="393.5" stroke="#dcdcdc" stroke-width="1"/>
<line x1="81.5" y1="300.5" x2="81.5" y2="393.5" stroke="#dcdcdc" stroke-width="1"/>
<line x1="119.5" y1="300.5" x2="119.5" y2="393.5" stroke="#dcdcdc" stroke-width="1"/>
<line x1="157.5" y1="300.5" x2="157.5" y2="393.5" stroke="#dcdcdc" stroke-width="1"/>
<line x1="43.5" y1="300.5" x2="43.5" y2="395.5" stroke="#8c8c8c" stroke-width="1"/>
<line x1="41.5" y1="393.5" x2="157.5" y2="393.5" stroke="#8c8c8c" stroke-width="1"/>
<line x1="41.0" y1="393.5" x2="43.5" y2="393.5" stroke="#8c8c8c" stroke-width="1"/>
<line x1="41.0" y1="365.5" x2="43.5" y2="365.5" stroke="#8c8c8c" stroke-width="1"/>
<line x1="41.0" y1="337.5" x2="43.5" y2="337.5" stroke="#8c8c8c" stroke-width="1"/>
<line x1="41.0" y1="310.5" x2="43.5" y2="310.5" stroke="#8c8c8c" stroke-width="1"/>
<line x1="43.5" y1="393.5" x2="43.5" y2="396.0" stroke="#8c8c8c" stroke-width="1"/>
<line x1="81.5" y1="393.5" x2="81.5" y2="396.0" stroke="#8c8c8c" stroke-width="1"/>
<line x1="119.5" y1="393.5" x2="119.5" y2="396.0" stroke="#8c8c8c" stroke-width="1"/>
<line x1="157.5" y1="393.5" x2="157.5" y2="396.0" stroke="#8c8c8c" stroke-width="1"/>
<text x="35.60" y="396.40" text-anchor="end" font-family="'Liberation Sans', sans-serif" font-size="8.8" font-weight="normal" fill="#333333" stroke="#333333" stroke-width="0.18" textLength="4.40" lengthAdjust="spacingAndGlyphs">5</text>
<text x="35.60" y="368.62" text-anchor="end" font-family="'Liberation Sans', sans-serif" font-size="8.8" font-weight="normal" fill="#333333" stroke="#333333" stroke-width="0.18" textLength="4.40" lengthAdjust="spacingAndGlyphs">8</text>
<text x="35.60" y="340.84" text-anchor="end" font-family="'Liberation Sans', sans-serif" font-size="8.8" font-weight="normal" fill="#333333" stroke="#333333" stroke-width="0.18" textLength="8.80" lengthAdjust="spacingAndGlyphs">11</text>
<text x="35.60" y="313.06" text-anchor="end" font-family="'Liberation Sans', sans-serif" font-size="8.8" font-weight="normal" fill="#333333" stroke="#333333" stroke-width="0.18" textLength="8.80" lengthAdjust="spacingAndGlyphs">14</text>
<text x="43.20" y="406.90" text-anchor="middle" font-family="'Liberation Sans', sans-serif" font-size="8.8" font-weight="normal" fill="#333333" stroke="#333333" stroke-width="0.18" textLength="4.40" lengthAdjust="spacingAndGlyphs">6</text>
<text x="81.33" y="406.90" text-anchor="middle" font-family="'Liberation Sans', sans-serif" font-size="8.8" font-weight="normal" fill="#333333" stroke="#333333" stroke-width="0.18" textLength="4.40" lengthAdjust="spacingAndGlyphs">7</text>
<text x="119.47" y="406.90" text-anchor="middle" font-family="'Liberation Sans', sans-serif" font-size="8.8" font-weight="normal" fill="#333333" stroke="#333333" stroke-width="0.18" textLength="4.40" lengthAdjust="spacingAndGlyphs">8</text>
<text x="157.60" y="406.90" text-anchor="middle" font-family="'Liberation Sans', sans-serif" font-size="8.8" font-weight="normal" fill="#333333" stroke="#333333" stroke-width="0.18" textLength="4.40" lengthAdjust="spacingAndGlyphs">9</text>
<text x="91.8" y="407.2" font-family="'Liberation Sans', sans-serif" font-size="9.2" font-weight="normal" fill="#333333" stroke="#333333" stroke-width="0.2" textLength="17.5" lengthAdjust="spacingAndGlyphs">ln C<tspan font-size="6.5" dy="2">e</tspan></text>
<text transform="translate(20.80,357.50) rotate(-90)" x="0" y="0" text-anchor="middle" font-family="'Liberation Sans', sans-serif" font-size="9" font-weight="normal" fill="#333333" stroke="#333333" stroke-width="0.2" textLength="34.3" lengthAdjust="spacingAndGlyphs"><tspan font-style="italic">q</tspan><tspan font-size="6.5" dy="2" font-style="italic">e</tspan><tspan dy="-2"> (mg/g)</tspan></text>
<line x1="66" y1="374.9" x2="140" y2="334.8" stroke="#1463f2" stroke-width="1.7" stroke-dasharray="1.5 1.5"/>
<path d="M65.40,374.30 C70.12,374.40 84.58,383.15 93.70,374.90 C102.82,366.65 114.52,332.33 120.10,324.80 C122.67,321.33 124.92,326.37 127.20,329.70 C129.48,333.03 131.85,341.67 133.80,344.80 C135.46,347.47 138.05,347.88 138.90,348.50" fill="none" stroke="#1463f2" stroke-width="2.0" stroke-linejoin="round" stroke-linecap="round"/>
<circle cx="65.4" cy="374.3" r="2.9" fill="none" stroke="#1463f2" stroke-width="1"/>
<circle cx="93.7" cy="374.9" r="2.9" fill="none" stroke="#1463f2" stroke-width="1"/>
<circle cx="120.1" cy="324.8" r="2.9" fill="none" stroke="#1463f2" stroke-width="1"/>
<circle cx="127.2" cy="329.7" r="2.9" fill="none" stroke="#1463f2" stroke-width="1"/>
<circle cx="133.8" cy="344.8" r="2.9" fill="none" stroke="#1463f2" stroke-width="1"/>
<circle cx="138.9" cy="348.5" r="2.9" fill="none" stroke="#1463f2" stroke-width="1"/>
<rect x="195.5" y="295.5" width="152.00" height="116.00" fill="#fff" stroke="#e2e2e2" stroke-width="1"/>
<text x="217.9" y="290.7" font-family="'Liberation Serif', serif" font-size="11.4" fill="#1a1a1a" stroke="#1a1a1a" stroke-width="0.08" textLength="107.9" lengthAdjust="spacingAndGlyphs">24 kGy<tspan font-size="8" dy="-1.3">&#8202;—&#8202;</tspan><tspan dy="1.3">Cu(II)</tspan><tspan font-size="8" dy="-1.3">&#8202;—&#8202;</tspan><tspan dy="1.3">single</tspan></text>
<line x1="228.5" y1="391.5" x2="338.5" y2="391.5" stroke="#dcdcdc" stroke-width="1"/>
<line x1="228.5" y1="364.5" x2="338.5" y2="364.5" stroke="#dcdcdc" stroke-width="1"/>
<line x1="228.5" y1="337.5" x2="338.5" y2="337.5" stroke="#dcdcdc" stroke-width="1"/>
<line x1="228.5" y1="310.5" x2="338.5" y2="310.5" stroke="#dcdcdc" stroke-width="1"/>
<line x1="228.5" y1="301.5" x2="338.5" y2="301.5" stroke="#dcdcdc" stroke-width="1"/>
<line x1="228.5" y1="301.5" x2="228.5" y2="391.5" stroke="#dcdcdc" stroke-width="1"/>
<line x1="265.5" y1="301.5" x2="265.5" y2="391.5" stroke="#dcdcdc" stroke-width="1"/>
<line x1="301.5" y1="301.5" x2="301.5" y2="391.5" stroke="#dcdcdc" stroke-width="1"/>
<line x1="338.5" y1="301.5" x2="338.5" y2="391.5" stroke="#dcdcdc" stroke-width="1"/>
<line x1="228.5" y1="301.5" x2="228.5" y2="393.5" stroke="#8c8c8c" stroke-width="1"/>
<line x1="226.5" y1="391.5" x2="338.5" y2="391.5" stroke="#8c8c8c" stroke-width="1"/>
<line x1="226.0" y1="391.5" x2="228.5" y2="391.5" stroke="#8c8c8c" stroke-width="1"/>
<line x1="226.0" y1="364.5" x2="228.5" y2="364.5" stroke="#8c8c8c" stroke-width="1"/>
<line x1="226.0" y1="337.5" x2="228.5" y2="337.5" stroke="#8c8c8c" stroke-width="1"/>
<line x1="226.0" y1="310.5" x2="228.5" y2="310.5" stroke="#8c8c8c" stroke-width="1"/>
<line x1="228.5" y1="391.5" x2="228.5" y2="394.0" stroke="#8c8c8c" stroke-width="1"/>
<line x1="265.5" y1="391.5" x2="265.5" y2="394.0" stroke="#8c8c8c" stroke-width="1"/>
<line x1="301.5" y1="391.5" x2="301.5" y2="394.0" stroke="#8c8c8c" stroke-width="1"/>
<line x1="338.5" y1="391.5" x2="338.5" y2="394.0" stroke="#8c8c8c" stroke-width="1"/>
<text x="221.20" y="394.60" text-anchor="end" font-family="'Liberation Sans', sans-serif" font-size="8.8" font-weight="normal" fill="#333333" stroke="#333333" stroke-width="0.18" textLength="4.40" lengthAdjust="spacingAndGlyphs">5</text>
<text x="221.20" y="367.45" text-anchor="end" font-family="'Liberation Sans', sans-serif" font-size="8.8" font-weight="normal" fill="#333333" stroke="#333333" stroke-width="0.18" textLength="4.40" lengthAdjust="spacingAndGlyphs">8</text>
<text x="221.20" y="340.30" text-anchor="end" font-family="'Liberation Sans', sans-serif" font-size="8.8" font-weight="normal" fill="#333333" stroke="#333333" stroke-width="0.18" textLength="8.80" lengthAdjust="spacingAndGlyphs">11</text>
<text x="221.20" y="313.15" text-anchor="end" font-family="'Liberation Sans', sans-serif" font-size="8.8" font-weight="normal" fill="#333333" stroke="#333333" stroke-width="0.18" textLength="8.80" lengthAdjust="spacingAndGlyphs">14</text>
<text x="228.80" y="405.10" text-anchor="middle" font-family="'Liberation Sans', sans-serif" font-size="8.8" font-weight="normal" fill="#333333" stroke="#333333" stroke-width="0.18" textLength="4.40" lengthAdjust="spacingAndGlyphs">6</text>
<text x="265.33" y="405.10" text-anchor="middle" font-family="'Liberation Sans', sans-serif" font-size="8.8" font-weight="normal" fill="#333333" stroke="#333333" stroke-width="0.18" textLength="4.40" lengthAdjust="spacingAndGlyphs">7</text>
<text x="301.87" y="405.10" text-anchor="middle" font-family="'Liberation Sans', sans-serif" font-size="8.8" font-weight="normal" fill="#333333" stroke="#333333" stroke-width="0.18" textLength="4.40" lengthAdjust="spacingAndGlyphs">8</text>
<text x="338.40" y="405.10" text-anchor="middle" font-family="'Liberation Sans', sans-serif" font-size="8.8" font-weight="normal" fill="#333333" stroke="#333333" stroke-width="0.18" textLength="4.40" lengthAdjust="spacingAndGlyphs">9</text>
<text x="274.8" y="407.2" font-family="'Liberation Sans', sans-serif" font-size="9.2" font-weight="normal" fill="#333333" stroke="#333333" stroke-width="0.2" textLength="18.4" lengthAdjust="spacingAndGlyphs">ln C<tspan font-size="6.5" dy="2">e</tspan></text>
<text transform="translate(207.90,346.50) rotate(-90)" x="0" y="0" text-anchor="middle" font-family="'Liberation Sans', sans-serif" font-size="9" font-weight="normal" fill="#333333" stroke="#333333" stroke-width="0.2" textLength="35" lengthAdjust="spacingAndGlyphs"><tspan font-style="italic">qe</tspan> (mg/g)</text>
<line x1="251.7" y1="382.5" x2="320.4" y2="343" stroke="#1463f2" stroke-width="1.7" stroke-dasharray="1.5 1.5"/>
<path d="M251.10,382.50 C255.58,381.43 269.43,381.82 278.00,376.10 C286.57,370.38 297.25,353.40 302.50,348.20 C305.25,345.48 307.30,345.58 309.50,344.90 C311.70,344.22 313.82,343.55 315.70,344.10 C317.58,344.65 319.95,347.52 320.80,348.20" fill="none" stroke="#1463f2" stroke-width="2.0" stroke-linejoin="round" stroke-linecap="round"/>
<circle cx="251.1" cy="382.5" r="2.9" fill="none" stroke="#1463f2" stroke-width="1"/>
<circle cx="278" cy="376.1" r="2.9" fill="none" stroke="#1463f2" stroke-width="1"/>
<circle cx="302.5" cy="348.2" r="2.9" fill="none" stroke="#1463f2" stroke-width="1"/>
<circle cx="309.5" cy="344.9" r="2.9" fill="none" stroke="#1463f2" stroke-width="1"/>
<circle cx="315.7" cy="344.1" r="2.9" fill="none" stroke="#1463f2" stroke-width="1"/>
<circle cx="320.8" cy="348.2" r="2.9" fill="none" stroke="#1463f2" stroke-width="1"/>
<rect x="375.5" y="295.5" width="147.00" height="116.00" fill="#fff" stroke="#e2e2e2" stroke-width="1"/>
<text x="391.6" y="290.7" font-family="'Liberation Serif', serif" font-size="11.4" fill="#1a1a1a" stroke="#1a1a1a" stroke-width="0.08" textLength="113.9" lengthAdjust="spacingAndGlyphs">100 kGy<tspan font-size="8" dy="-1.3">&#8202;—&#8202;</tspan><tspan dy="1.3">Cu(II)</tspan><tspan font-size="8" dy="-1.3">&#8202;—&#8202;</tspan><tspan dy="1.3">single</tspan></text>
<line x1="409.5" y1="390.5" x2="514.5" y2="390.5" stroke="#dcdcdc" stroke-width="1"/>
<line x1="409.5" y1="365.5" x2="514.5" y2="365.5" stroke="#dcdcdc" stroke-width="1"/>
<line x1="409.5" y1="339.5" x2="514.5" y2="339.5" stroke="#dcdcdc" stroke-width="1"/>
<line x1="409.5" y1="313.5" x2="514.5" y2="313.5" stroke="#dcdcdc" stroke-width="1"/>
<line x1="409.5" y1="305.5" x2="514.5" y2="305.5" stroke="#dcdcdc" stroke-width="1"/>
<line x1="409.5" y1="305.5" x2="409.5" y2="390.5" stroke="#dcdcdc" stroke-width="1"/>
<line x1="444.5" y1="305.5" x2="444.5" y2="390.5" stroke="#dcdcdc" stroke-width="1"/>
<line x1="479.5" y1="305.5" x2="479.5" y2="390.5" stroke="#dcdcdc" stroke-width="1"/>
<line x1="514.5" y1="305.5" x2="514.5" y2="390.5" stroke="#dcdcdc" stroke-width="1"/>
<line x1="409.5" y1="305.5" x2="409.5" y2="392.5" stroke="#8c8c8c" stroke-width="1"/>
<line x1="407.5" y1="390.5" x2="514.5" y2="390.5" stroke="#8c8c8c" stroke-width="1"/>
<line x1="407.0" y1="390.5" x2="409.5" y2="390.5" stroke="#8c8c8c" stroke-width="1"/>
<line x1="407.0" y1="365.5" x2="409.5" y2="365.5" stroke="#8c8c8c" stroke-width="1"/>
<line x1="407.0" y1="339.5" x2="409.5" y2="339.5" stroke="#8c8c8c" stroke-width="1"/>
<line x1="407.0" y1="313.5" x2="409.5" y2="313.5" stroke="#8c8c8c" stroke-width="1"/>
<line x1="409.5" y1="390.5" x2="409.5" y2="393.0" stroke="#8c8c8c" stroke-width="1"/>
<line x1="444.5" y1="390.5" x2="444.5" y2="393.0" stroke="#8c8c8c" stroke-width="1"/>
<line x1="479.5" y1="390.5" x2="479.5" y2="393.0" stroke="#8c8c8c" stroke-width="1"/>
<line x1="514.5" y1="390.5" x2="514.5" y2="393.0" stroke="#8c8c8c" stroke-width="1"/>
<text x="402.10" y="393.50" text-anchor="end" font-family="'Liberation Sans', sans-serif" font-size="8.8" font-weight="normal" fill="#333333" stroke="#333333" stroke-width="0.18" textLength="4.40" lengthAdjust="spacingAndGlyphs">5</text>
<text x="402.10" y="367.91" text-anchor="end" font-family="'Liberation Sans', sans-serif" font-size="8.8" font-weight="normal" fill="#333333" stroke="#333333" stroke-width="0.18" textLength="4.40" lengthAdjust="spacingAndGlyphs">8</text>
<text x="402.10" y="342.32" text-anchor="end" font-family="'Liberation Sans', sans-serif" font-size="8.8" font-weight="normal" fill="#333333" stroke="#333333" stroke-width="0.18" textLength="8.80" lengthAdjust="spacingAndGlyphs">11</text>
<text x="402.10" y="316.73" text-anchor="end" font-family="'Liberation Sans', sans-serif" font-size="8.8" font-weight="normal" fill="#333333" stroke="#333333" stroke-width="0.18" textLength="8.80" lengthAdjust="spacingAndGlyphs">14</text>
<text x="409.70" y="404.00" text-anchor="middle" font-family="'Liberation Sans', sans-serif" font-size="8.8" font-weight="normal" fill="#333333" stroke="#333333" stroke-width="0.18" textLength="4.40" lengthAdjust="spacingAndGlyphs">6</text>
<text x="444.53" y="404.00" text-anchor="middle" font-family="'Liberation Sans', sans-serif" font-size="8.8" font-weight="normal" fill="#333333" stroke="#333333" stroke-width="0.18" textLength="4.40" lengthAdjust="spacingAndGlyphs">7</text>
<text x="479.37" y="404.00" text-anchor="middle" font-family="'Liberation Sans', sans-serif" font-size="8.8" font-weight="normal" fill="#333333" stroke="#333333" stroke-width="0.18" textLength="4.40" lengthAdjust="spacingAndGlyphs">8</text>
<text x="514.20" y="404.00" text-anchor="middle" font-family="'Liberation Sans', sans-serif" font-size="8.8" font-weight="normal" fill="#333333" stroke="#333333" stroke-width="0.18" textLength="4.40" lengthAdjust="spacingAndGlyphs">9</text>
<text x="456.8" y="407.5" font-family="'Liberation Sans', sans-serif" font-size="9.2" font-weight="normal" fill="#333333" stroke="#333333" stroke-width="0.2" textLength="17.1" lengthAdjust="spacingAndGlyphs">ln C<tspan font-size="6.5" dy="2">e</tspan></text>
<text transform="translate(389.10,345.30) rotate(-90)" x="0" y="0" text-anchor="middle" font-family="'Liberation Sans', sans-serif" font-size="9" font-weight="normal" fill="#333333" stroke="#333333" stroke-width="0.2" textLength="35" lengthAdjust="spacingAndGlyphs"><tspan font-style="italic">q</tspan><tspan font-size="6.5" dy="2" font-style="italic">e</tspan><tspan dy="-2"> (mg/g)</tspan></text>
<line x1="429.4" y1="356.7" x2="497.6" y2="373.7" stroke="#1463f2" stroke-width="1.7" stroke-dasharray="1.5 1.5"/>
<path d="M430.40,375.00 C434.47,369.45 446.48,347.25 454.80,341.70 C463.12,336.15 474.87,335.58 480.30,341.70 C485.73,347.82 485.27,371.40 487.40,378.40 C488.53,382.12 491.40,382.52 493.10,383.70 C494.80,384.88 496.85,385.20 497.60,385.50" fill="none" stroke="#1463f2" stroke-width="2.0" stroke-linejoin="round" stroke-linecap="round"/>
<circle cx="430.4" cy="375" r="2.9" fill="none" stroke="#1463f2" stroke-width="1"/>
<circle cx="454.8" cy="341.7" r="2.9" fill="none" stroke="#1463f2" stroke-width="1"/>
<circle cx="480.3" cy="341.7" r="2.9" fill="none" stroke="#1463f2" stroke-width="1"/>
<circle cx="487.4" cy="378.4" r="2.9" fill="none" stroke="#1463f2" stroke-width="1"/>
<circle cx="493.1" cy="383.7" r="2.9" fill="none" stroke="#1463f2" stroke-width="1"/>
<circle cx="497.6" cy="385.5" r="2.9" fill="none" stroke="#1463f2" stroke-width="1"/>
<rect x="7.5" y="426.5" width="158.00" height="118.00" fill="#fff" stroke="#e2e2e2" stroke-width="1"/>
<text x="34.5" y="423.1" font-family="'Liberation Serif', serif" font-size="11.4" fill="#1a1a1a" stroke="#1a1a1a" stroke-width="0.08" textLength="105.3" lengthAdjust="spacingAndGlyphs">0 kGy<tspan font-size="8" dy="-1.3">&#8202;—&#8202;</tspan><tspan dy="1.3">Cu(II)</tspan><tspan font-size="8" dy="-1.3">&#8202;—&#8202;</tspan><tspan dy="1.3">binary</tspan></text>
<line x1="43.5" y1="524.5" x2="154.5" y2="524.5" stroke="#dcdcdc" stroke-width="1"/>
<line x1="43.5" y1="505.5" x2="154.5" y2="505.5" stroke="#dcdcdc" stroke-width="1"/>
<line x1="43.5" y1="487.5" x2="154.5" y2="487.5" stroke="#dcdcdc" stroke-width="1"/>
<line x1="43.5" y1="469.5" x2="154.5" y2="469.5" stroke="#dcdcdc" stroke-width="1"/>
<line x1="43.5" y1="451.5" x2="154.5" y2="451.5" stroke="#dcdcdc" stroke-width="1"/>
<line x1="43.5" y1="433.5" x2="154.5" y2="433.5" stroke="#dcdcdc" stroke-width="1"/>
<line x1="43.5" y1="433.5" x2="43.5" y2="524.5" stroke="#dcdcdc" stroke-width="1"/>
<line x1="80.5" y1="433.5" x2="80.5" y2="524.5" stroke="#dcdcdc" stroke-width="1"/>
<line x1="117.5" y1="433.5" x2="117.5" y2="524.5" stroke="#dcdcdc" stroke-width="1"/>
<line x1="154.5" y1="433.5" x2="154.5" y2="524.5" stroke="#dcdcdc" stroke-width="1"/>
<text x="35.50" y="526.90" text-anchor="end" font-family="'Liberation Sans', sans-serif" font-size="8.8" font-weight="normal" fill="#333333" stroke="#333333" stroke-width="0.18" textLength="4.40" lengthAdjust="spacingAndGlyphs">0</text>
<text x="35.50" y="508.80" text-anchor="end" font-family="'Liberation Sans', sans-serif" font-size="8.8" font-weight="normal" fill="#333333" stroke="#333333" stroke-width="0.18" textLength="4.40" lengthAdjust="spacingAndGlyphs">5</text>
<text x="35.50" y="490.70" text-anchor="end" font-family="'Liberation Sans', sans-serif" font-size="8.8" font-weight="normal" fill="#333333" stroke="#333333" stroke-width="0.18" textLength="8.80" lengthAdjust="spacingAndGlyphs">10</text>
<text x="35.50" y="472.60" text-anchor="end" font-family="'Liberation Sans', sans-serif" font-size="8.8" font-weight="normal" fill="#333333" stroke="#333333" stroke-width="0.18" textLength="8.80" lengthAdjust="spacingAndGlyphs">15</text>
<text x="35.50" y="454.50" text-anchor="end" font-family="'Liberation Sans', sans-serif" font-size="8.8" font-weight="normal" fill="#333333" stroke="#333333" stroke-width="0.18" textLength="8.80" lengthAdjust="spacingAndGlyphs">20</text>
<text x="35.50" y="436.40" text-anchor="end" font-family="'Liberation Sans', sans-serif" font-size="8.8" font-weight="normal" fill="#333333" stroke="#333333" stroke-width="0.18" textLength="8.80" lengthAdjust="spacingAndGlyphs">25</text>
<text x="43.50" y="537.40" text-anchor="middle" font-family="'Liberation Sans', sans-serif" font-size="8.8" font-weight="normal" fill="#333333" stroke="#333333" stroke-width="0.18" textLength="11.00" lengthAdjust="spacingAndGlyphs">6.5</text>
<text x="80.37" y="537.40" text-anchor="middle" font-family="'Liberation Sans', sans-serif" font-size="8.8" font-weight="normal" fill="#333333" stroke="#333333" stroke-width="0.18" textLength="4.40" lengthAdjust="spacingAndGlyphs">7</text>
<text x="117.23" y="537.40" text-anchor="middle" font-family="'Liberation Sans', sans-serif" font-size="8.8" font-weight="normal" fill="#333333" stroke="#333333" stroke-width="0.18" textLength="11.00" lengthAdjust="spacingAndGlyphs">7.5</text>
<text x="154.10" y="537.40" text-anchor="middle" font-family="'Liberation Sans', sans-serif" font-size="8.8" font-weight="normal" fill="#333333" stroke="#333333" stroke-width="0.18" textLength="4.40" lengthAdjust="spacingAndGlyphs">8</text>
<text x="85.7" y="540.2" font-family="'Liberation Sans', sans-serif" font-size="9.2" font-weight="normal" fill="#333333" stroke="#333333" stroke-width="0.2" textLength="17.1" lengthAdjust="spacingAndGlyphs">ln C<tspan font-size="6.5" dy="2">e</tspan></text>
<text transform="translate(21.10,475.00) rotate(-90)" x="0" y="0" text-anchor="middle" font-family="'Liberation Sans', sans-serif" font-size="9" font-weight="normal" fill="#333333" stroke="#333333" stroke-width="0.2" textLength="35.6" lengthAdjust="spacingAndGlyphs">q<tspan font-size="6.5" dy="2">e</tspan><tspan dy="-2"> (mg/g)</tspan></text>
<line x1="54.8" y1="458.2" x2="125.6" y2="460.5" stroke="#1463f2" stroke-width="1.7" stroke-dasharray="1.5 1.5"/>
<path d="M55.70,465.40 C59.42,463.12 70.90,452.63 78.00,451.70 C85.10,450.77 92.65,460.28 98.30,459.80 C103.95,459.32 107.20,446.87 111.90,448.80 C116.60,450.73 124.07,467.63 126.50,471.40" fill="none" stroke="#1463f2" stroke-width="2.4" stroke-linejoin="round" stroke-linecap="round"/>
<circle cx="55.7" cy="465.4" r="3.1" fill="#1463f2"/>
<circle cx="78" cy="451.7" r="3.1" fill="#1463f2"/>
<circle cx="98.3" cy="459.8" r="3.1" fill="#1463f2"/>
<circle cx="111.9" cy="448.8" r="3.1" fill="#1463f2"/>
<circle cx="126.5" cy="471.4" r="3.1" fill="#1463f2"/>
<rect x="195.5" y="426.5" width="153.00" height="118.00" fill="#fff" stroke="#e2e2e2" stroke-width="1"/>
<text x="216.7" y="423.1" font-family="'Liberation Serif', serif" font-size="11.4" fill="#1a1a1a" stroke="#1a1a1a" stroke-width="0.08" textLength="109.9" lengthAdjust="spacingAndGlyphs">24 kGy<tspan font-size="8" dy="-1.3">&#8202;—&#8202;</tspan><tspan dy="1.3">Cu(II)</tspan><tspan font-size="8" dy="-1.3">&#8202;—&#8202;</tspan><tspan dy="1.3">binary</tspan></text>
<line x1="229.5" y1="524.5" x2="339.5" y2="524.5" stroke="#dcdcdc" stroke-width="1"/>
<line x1="229.5" y1="505.5" x2="339.5" y2="505.5" stroke="#dcdcdc" stroke-width="1"/>
<line x1="229.5" y1="487.5" x2="339.5" y2="487.5" stroke="#dcdcdc" stroke-width="1"/>
<line x1="229.5" y1="469.5" x2="339.5" y2="469.5" stroke="#dcdcdc" stroke-width="1"/>
<line x1="229.5" y1="450.5" x2="339.5" y2="450.5" stroke="#dcdcdc" stroke-width="1"/>
<line x1="229.5" y1="432.5" x2="339.5" y2="432.5" stroke="#dcdcdc" stroke-width="1"/>
<line x1="229.5" y1="432.5" x2="229.5" y2="524.5" stroke="#dcdcdc" stroke-width="1"/>
<line x1="266.5" y1="432.5" x2="266.5" y2="524.5" stroke="#dcdcdc" stroke-width="1"/>
<line x1="302.5" y1="432.5" x2="302.5" y2="524.5" stroke="#dcdcdc" stroke-width="1"/>
<line x1="339.5" y1="432.5" x2="339.5" y2="524.5" stroke="#dcdcdc" stroke-width="1"/>
<text x="221.50" y="526.90" text-anchor="end" font-family="'Liberation Sans', sans-serif" font-size="8.8" font-weight="normal" fill="#333333" stroke="#333333" stroke-width="0.18" textLength="4.40" lengthAdjust="spacingAndGlyphs">0</text>
<text x="221.50" y="508.64" text-anchor="end" font-family="'Liberation Sans', sans-serif" font-size="8.8" font-weight="normal" fill="#333333" stroke="#333333" stroke-width="0.18" textLength="4.40" lengthAdjust="spacingAndGlyphs">5</text>
<text x="221.50" y="490.38" text-anchor="end" font-family="'Liberation Sans', sans-serif" font-size="8.8" font-weight="normal" fill="#333333" stroke="#333333" stroke-width="0.18" textLength="8.80" lengthAdjust="spacingAndGlyphs">10</text>
<text x="221.50" y="472.12" text-anchor="end" font-family="'Liberation Sans', sans-serif" font-size="8.8" font-weight="normal" fill="#333333" stroke="#333333" stroke-width="0.18" textLength="8.80" lengthAdjust="spacingAndGlyphs">15</text>
<text x="221.50" y="453.86" text-anchor="end" font-family="'Liberation Sans', sans-serif" font-size="8.8" font-weight="normal" fill="#333333" stroke="#333333" stroke-width="0.18" textLength="8.80" lengthAdjust="spacingAndGlyphs">20</text>
<text x="221.50" y="435.60" text-anchor="end" font-family="'Liberation Sans', sans-serif" font-size="8.8" font-weight="normal" fill="#333333" stroke="#333333" stroke-width="0.18" textLength="8.80" lengthAdjust="spacingAndGlyphs">25</text>
<text x="229.50" y="537.40" text-anchor="middle" font-family="'Liberation Sans', sans-serif" font-size="8.8" font-weight="normal" fill="#333333" stroke="#333333" stroke-width="0.18" textLength="11.00" lengthAdjust="spacingAndGlyphs">6.5</text>
<text x="266.17" y="537.40" text-anchor="middle" font-family="'Liberation Sans', sans-serif" font-size="8.8" font-weight="normal" fill="#333333" stroke="#333333" stroke-width="0.18" textLength="4.40" lengthAdjust="spacingAndGlyphs">7</text>
<text x="302.83" y="537.40" text-anchor="middle" font-family="'Liberation Sans', sans-serif" font-size="8.8" font-weight="normal" fill="#333333" stroke="#333333" stroke-width="0.18" textLength="11.00" lengthAdjust="spacingAndGlyphs">7.5</text>
<text x="339.50" y="537.40" text-anchor="middle" font-family="'Liberation Sans', sans-serif" font-size="8.8" font-weight="normal" fill="#333333" stroke="#333333" stroke-width="0.18" textLength="4.40" lengthAdjust="spacingAndGlyphs">8</text>
<text x="277.7" y="540.2" font-family="'Liberation Sans', sans-serif" font-size="9.2" font-weight="normal" fill="#333333" stroke="#333333" stroke-width="0.2" textLength="17.1" lengthAdjust="spacingAndGlyphs">ln C<tspan font-size="6.5" dy="2">e</tspan></text>
<text transform="translate(207.90,475.60) rotate(-90)" x="0" y="0" text-anchor="middle" font-family="'Liberation Sans', sans-serif" font-size="10" font-weight="normal" fill="#333333" stroke="#333333" stroke-width="0.2" textLength="39.5" lengthAdjust="spacingAndGlyphs"><tspan font-style="italic">q</tspan><tspan font-size="6.5" dy="2" font-style="italic">e</tspan><tspan dy="-2"> (mg/g)</tspan></text>
<line x1="249.8" y1="497.2" x2="315.1" y2="498" stroke="#1463f2" stroke-width="1.7" stroke-dasharray="1.5 1.5"/>
<path d="M248.80,493.80 C252.73,494.50 265.48,496.27 272.40,498.00 C279.32,499.73 285.13,503.95 290.30,504.20 C295.47,504.45 299.33,501.60 303.40,499.50 C307.47,497.40 312.82,492.92 314.70,491.60" fill="none" stroke="#1463f2" stroke-width="2.4" stroke-linejoin="round" stroke-linecap="round"/>
<circle cx="248.8" cy="493.8" r="3.1" fill="#1463f2"/>
<circle cx="272.4" cy="498" r="3.1" fill="#1463f2"/>
<circle cx="290.3" cy="504.2" r="3.1" fill="#1463f2"/>
<circle cx="303.4" cy="499.5" r="3.1" fill="#1463f2"/>
<circle cx="314.7" cy="491.6" r="3.1" fill="#1463f2"/>
<rect x="375.5" y="426.5" width="147.00" height="118.00" fill="#fff" stroke="#e2e2e2" stroke-width="1"/>
<text x="390.5" y="423.1" font-family="'Liberation Serif', serif" font-size="11.4" fill="#1a1a1a" stroke="#1a1a1a" stroke-width="0.08" textLength="116.4" lengthAdjust="spacingAndGlyphs">100 kGy<tspan font-size="8" dy="-1.3">&#8202;—&#8202;</tspan><tspan dy="1.3">Cu(II)</tspan><tspan font-size="8" dy="-1.3">&#8202;—&#8202;</tspan><tspan dy="1.3">binary</tspan></text>
<line x1="411.5" y1="520.5" x2="514.5" y2="520.5" stroke="#dcdcdc" stroke-width="1"/>
<line x1="411.5" y1="503.5" x2="514.5" y2="503.5" stroke="#dcdcdc" stroke-width="1"/>
<line x1="411.5" y1="485.5" x2="514.5" y2="485.5" stroke="#dcdcdc" stroke-width="1"/>
<line x1="411.5" y1="467.5" x2="514.5" y2="467.5" stroke="#dcdcdc" stroke-width="1"/>
<line x1="411.5" y1="449.5" x2="514.5" y2="449.5" stroke="#dcdcdc" stroke-width="1"/>
<line x1="411.5" y1="431.5" x2="514.5" y2="431.5" stroke="#dcdcdc" stroke-width="1"/>
<line x1="411.5" y1="431.5" x2="411.5" y2="520.5" stroke="#dcdcdc" stroke-width="1"/>
<line x1="445.5" y1="431.5" x2="445.5" y2="520.5" stroke="#dcdcdc" stroke-width="1"/>
<line x1="480.5" y1="431.5" x2="480.5" y2="520.5" stroke="#dcdcdc" stroke-width="1"/>
<line x1="514.5" y1="431.5" x2="514.5" y2="520.5" stroke="#dcdcdc" stroke-width="1"/>
<text x="403.80" y="523.80" text-anchor="end" font-family="'Liberation Sans', sans-serif" font-size="8.8" font-weight="normal" fill="#333333" stroke="#333333" stroke-width="0.18" textLength="4.40" lengthAdjust="spacingAndGlyphs">0</text>
<text x="403.80" y="505.94" text-anchor="end" font-family="'Liberation Sans', sans-serif" font-size="8.8" font-weight="normal" fill="#333333" stroke="#333333" stroke-width="0.18" textLength="4.40" lengthAdjust="spacingAndGlyphs">5</text>
<text x="403.80" y="488.08" text-anchor="end" font-family="'Liberation Sans', sans-serif" font-size="8.8" font-weight="normal" fill="#333333" stroke="#333333" stroke-width="0.18" textLength="8.80" lengthAdjust="spacingAndGlyphs">10</text>
<text x="403.80" y="470.22" text-anchor="end" font-family="'Liberation Sans', sans-serif" font-size="8.8" font-weight="normal" fill="#333333" stroke="#333333" stroke-width="0.18" textLength="8.80" lengthAdjust="spacingAndGlyphs">15</text>
<text x="403.80" y="452.36" text-anchor="end" font-family="'Liberation Sans', sans-serif" font-size="8.8" font-weight="normal" fill="#333333" stroke="#333333" stroke-width="0.18" textLength="8.80" lengthAdjust="spacingAndGlyphs">20</text>
<text x="403.80" y="434.50" text-anchor="end" font-family="'Liberation Sans', sans-serif" font-size="8.8" font-weight="normal" fill="#333333" stroke="#333333" stroke-width="0.18" textLength="8.80" lengthAdjust="spacingAndGlyphs">25</text>
<text x="411.80" y="534.30" text-anchor="middle" font-family="'Liberation Sans', sans-serif" font-size="8.8" font-weight="normal" fill="#333333" stroke="#333333" stroke-width="0.18" textLength="11.00" lengthAdjust="spacingAndGlyphs">6.5</text>
<text x="445.93" y="534.30" text-anchor="middle" font-family="'Liberation Sans', sans-serif" font-size="8.8" font-weight="normal" fill="#333333" stroke="#333333" stroke-width="0.18" textLength="4.40" lengthAdjust="spacingAndGlyphs">7</text>
<text x="480.07" y="534.30" text-anchor="middle" font-family="'Liberation Sans', sans-serif" font-size="8.8" font-weight="normal" fill="#333333" stroke="#333333" stroke-width="0.18" textLength="11.00" lengthAdjust="spacingAndGlyphs">7.5</text>
<text x="514.20" y="534.30" text-anchor="middle" font-family="'Liberation Sans', sans-serif" font-size="8.8" font-weight="normal" fill="#333333" stroke="#333333" stroke-width="0.18" textLength="4.40" lengthAdjust="spacingAndGlyphs">8</text>
<text x="449.4" y="538.5" font-family="'Liberation Sans', sans-serif" font-size="9.2" font-weight="normal" fill="#333333" stroke="#333333" stroke-width="0.2" textLength="17.5" lengthAdjust="spacingAndGlyphs">ln C<tspan font-size="6.5" dy="2">e</tspan></text>
<text transform="translate(389.10,469.70) rotate(-90)" x="0" y="0" text-anchor="middle" font-family="'Liberation Sans', sans-serif" font-size="9" font-weight="normal" fill="#333333" stroke="#333333" stroke-width="0.2" textLength="35" lengthAdjust="spacingAndGlyphs">q<tspan font-size="6.5" dy="2">e</tspan><tspan dy="-2"> (mg/g)</tspan></text>
<line x1="435.7" y1="515.2" x2="490" y2="493" stroke="#1463f2" stroke-width="1.7" stroke-dasharray="1.5 1.5"/>
<path d="M434.20,514.80 C437.43,513.55 447.85,509.18 453.60,507.30 C459.35,505.42 464.05,503.92 468.70,503.50 C473.35,503.08 477.90,508.03 481.50,504.80 C485.10,501.57 488.83,487.55 490.30,484.10" fill="none" stroke="#1463f2" stroke-width="2.4" stroke-linejoin="round" stroke-linecap="round"/>
<circle cx="434.2" cy="514.8" r="3.1" fill="#1463f2"/>
<circle cx="453.6" cy="507.3" r="3.1" fill="#1463f2"/>
<circle cx="468.7" cy="503.5" r="3.1" fill="#1463f2"/>
<circle cx="481.5" cy="504.8" r="3.1" fill="#1463f2"/>
<circle cx="490.3" cy="484.1" r="3.1" fill="#1463f2"/>
</svg>
</body></html>
